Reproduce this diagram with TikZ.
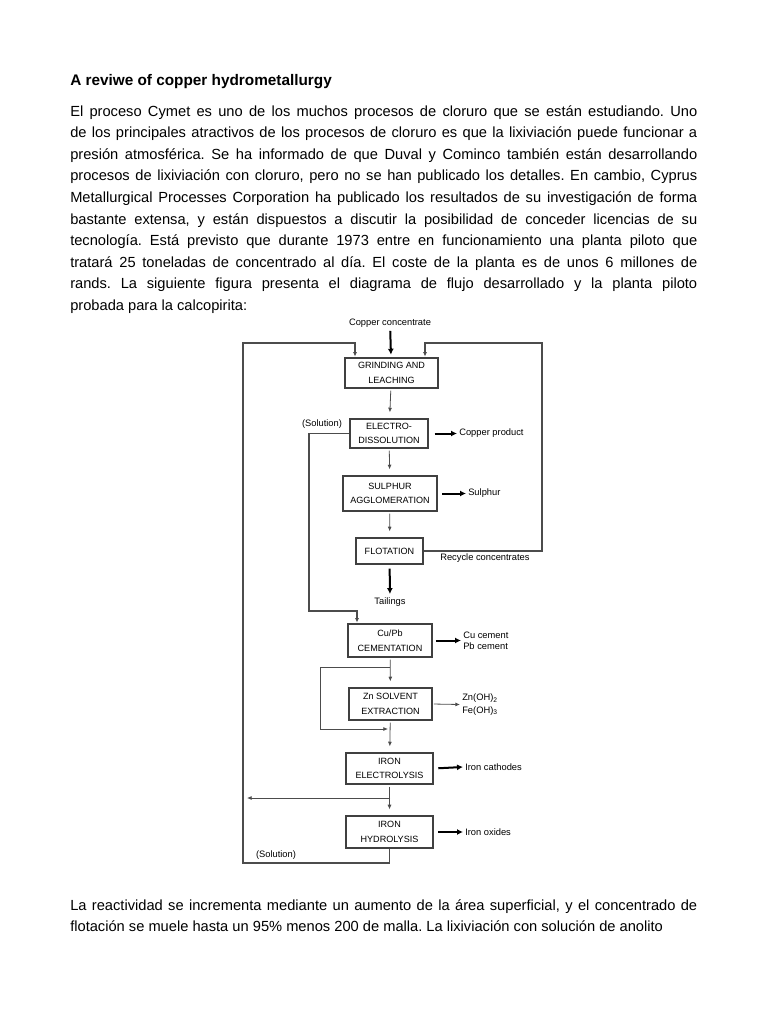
\documentclass[tikz,border=0pt]{standalone}
\usepackage{fontspec}
\setmainfont{Liberation Sans}
\usetikzlibrary{positioning,shapes,arrows.meta}

\tikzset{
  stage/.style={draw=black!75, line width=0.9pt, align=center, inner sep=0pt,
    font=\fontsize{6.8}{11}\selectfont},
  lbl/.style={font=\fontsize{7}{8.5}\selectfont, align=left, inner sep=1.5pt},
  flow/.style={draw=black!70, line width=0.6pt, -{Latex[length=3.5pt,width=3pt]},
    shorten <=1.5pt, shorten >=4.5pt},
  loop/.style={draw=black!70, line width=0.9pt, -{Latex[length=3.5pt,width=3pt]}},
  bigflow/.style={draw=black, line width=1.5pt, -{Latex[length=4.5pt,width=4.5pt]}},
  para/.style={anchor=north west, inner sep=0pt, text width=470.25pt, align=justify,
    font=\fontsize{11}{16.2}\selectfont},
}
\newcommand{\loosepar}{\tolerance=10000\relax\hbadness=10000\relax\frenchspacing}

\begin{document}
\begin{tikzpicture}[x=0.75pt,y=-0.75pt]
  \useasboundingbox (0,0) rectangle (768,1024);

  % Page text
  \node[anchor=base west, inner sep=0pt, font=\fontsize{11.5}{13}\selectfont\bfseries]
    (title) at (70,85) {A reviwe of copper hydrometallurgy};
  \node[para] (intro) at (70,105) {\loosepar El proceso Cymet es uno de los muchos procesos de cloruro que se están estudiando. Uno\linebreak
    de los principales atractivos de los procesos de cloruro es que la lixiviación puede funcionar a\linebreak
    presión atmosférica. Se ha informado de que Duval y Cominco también están desarrollando\linebreak
    procesos de lixiviación con cloruro, pero no se han publicado los detalles. En cambio, Cyprus\linebreak
    Metallurgical Processes Corporation ha publicado los resultados de su investigación de forma\linebreak
    bastante extensa, y están dispuestos a discutir la posibilidad de conceder licencias de su\linebreak
    tecnología. Está previsto que durante 1973 entre en funcionamiento una planta piloto que\linebreak
    tratará 25 toneladas de concentrado al día. El coste de la planta es de unos 6 millones de\linebreak
    rands. La siguiente figura presenta el diagrama de flujo desarrollado y la planta piloto\linebreak
    probada para la calcopirita:};
  \node[para] (outro) at (70,899) {\loosepar\parfillskip=0pt\relax La reactividad se incrementa mediante un aumento de la área superficial, y el concentrado de\linebreak
    flotación se muele hasta un 95\% menos 200 de malla. La lixiviación con solución de anolito};

  % Define nodes
  \node[lbl] (concentrate) at (390,323) {Copper concentrate};
  \node[stage, minimum width=69.75pt, minimum height=22.5pt] (grinding) at (391.5,373) {GRINDING AND\\LEACHING};
  \node[stage, minimum width=58.5pt, minimum height=21.75pt] (electro) at (389,433.5) {ELECTRO-\\DISSOLUTION};
  \node[stage, minimum width=70.5pt, minimum height=26.25pt] (sulphur) at (390,493.5) {SULPHUR\\AGGLOMERATION};
  \node[stage, minimum width=50.25pt, minimum height=19.5pt] (flotation) at (389.5,551) {FLOTATION};
  \node[lbl] (tailings) at (390,602) {Tailings};
  \node[stage, minimum width=63pt, minimum height=24.75pt] (cementation) at (390,640.5) {Cu/Pb\\CEMENTATION};
  \node[stage, minimum width=62.25pt, minimum height=24pt] (znextract) at (390.5,704) {Zn SOLVENT\\EXTRACTION};
  \node[stage, minimum width=65.25pt, minimum height=23.25pt] (ironelec) at (389.5,768.5) {IRON\\ELECTROLYSIS};
  \node[stage, minimum width=65.25pt, minimum height=24pt] (ironhydro) at (389.5,832) {IRON\\HYDROLYSIS};

  % Products
  \node[lbl, anchor=west] (copperprod) at (457,433.5) {Copper product};
  \node[lbl, anchor=west] (sulphurprod) at (466,493.5) {Sulphur};
  \node[lbl, anchor=west] (recycle) at (438,558) {Recycle concentrates};
  \node[lbl, anchor=west, font=\fontsize{7}{8.25}\selectfont] (cements) at (461,640.5) {Cu cement\\Pb cement};
  \node[lbl, anchor=west, font=\fontsize{7}{9.5}\selectfont] (hydroxides) at (460,704.5) {Zn(OH)\textsubscript{2}\\Fe(OH)\textsubscript{3}};
  \node[lbl, anchor=west] (cathodes) at (463,767) {Iron cathodes};
  \node[lbl, anchor=west] (oxides) at (463,832) {Iron oxides};
  \node[lbl] (solutiontop) at (322,424) {(Solution)};
  \node[lbl] (solutionbot) at (276,855) {(Solution)};

  % Loop corners
  \coordinate (grindinL) at (355,358);
  \coordinate (grindinR) at (425,358);
  \coordinate (cemin) at (357,624);
  \coordinate (loopBL) at (243,863);
  \coordinate (loopTL) at (243,343);
  \coordinate (recycleTR) at (542,343);
  \coordinate (solcorner) at (309,611);
  \coordinate (znsplit) at (390,667);
  \coordinate (znjoin) at (388,729);
  \coordinate (solsplit) at (390,798);
  \coordinate (solreturn) at (247,798);

  % Connect the nodes
  \draw[bigflow, shorten <=1pt, shorten >=2pt] (concentrate) -- (grinding);
  \draw[flow] (grinding) -- (electro);
  \draw[flow] (electro) -- (sulphur);
  \draw[flow] (sulphur) -- (flotation);
  \draw[bigflow, shorten <=3pt, shorten >=1pt] (flotation) -- (tailings);
  \draw[flow] (cementation) -- (znextract);
  \draw[flow] (znextract) -- (ironelec);
  \draw[flow] (ironelec) -- (ironhydro);

  \draw[bigflow, shorten <=4.5pt] (electro.east) -- (copperprod.west);
  \draw[bigflow, shorten <=3.5pt] (sulphur.east) -- (sulphurprod.west);
  \draw[bigflow, shorten <=2.5pt] (cementation.east) -- (cements.west);
  \draw[loop, line width=0.6pt, shorten <=1pt] (znextract.east) -- (hydroxides.west);
  \draw[bigflow, shorten <=3.5pt] (ironelec.east) -- (cathodes.west);
  \draw[bigflow, shorten <=3.5pt] (ironhydro.east) -- (oxides.west);

  % Recycle loops
  \draw[loop, shorten >=1pt] (ironhydro.south) |- (loopBL) -- (loopTL) -| (grindinL);
  \draw[loop, shorten >=1pt] (flotation.east) -| (recycleTR) -| (grindinR);
  \draw[loop, shorten >=1pt] (electro.west) -| (solcorner) -| (cemin);
  \draw[loop, line width=0.6pt] (znsplit) -- ++(-70,0) |- (znjoin);
  \draw[loop, line width=0.6pt] (solsplit) -- (solreturn);

\end{tikzpicture}
\end{document}
